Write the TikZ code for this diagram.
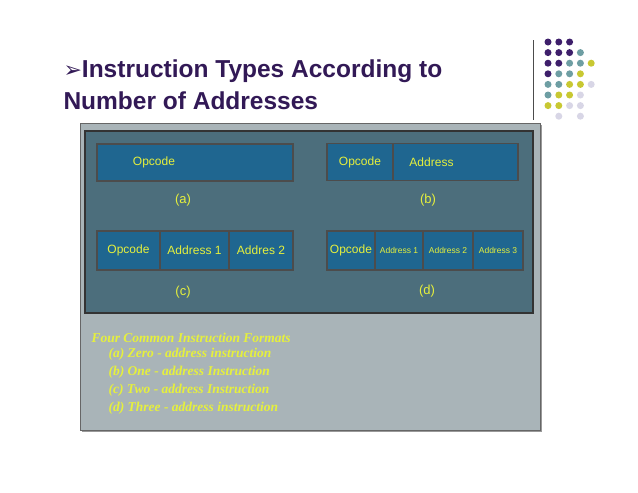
\documentclass[tikz,border=0pt]{standalone}
\usepackage{fontspec}
\setmainfont{Liberation Sans}
\newfontfamily\dejavu{DejaVu Sans}
\newfontfamily\scriptf{Liberation Serif}
\definecolor{dpurple}{HTML}{3E1F6B}
\definecolor{dteal}{HTML}{6E9EA3}
\definecolor{dyel}{HTML}{C8C832}
\definecolor{dlil}{HTML}{D8D6E6}
\definecolor{panelbg}{HTML}{A9B4B8}
\definecolor{inner}{HTML}{4C6E7C}
\definecolor{fbox}{HTML}{1F6690}
\definecolor{ytext}{HTML}{E6F03C}
\begin{document}
\begin{tikzpicture}[x=1pt,y=-1pt,
  field/.style={draw=black!70,line width=1.2pt,fill=fbox,inner sep=0},
  ftext/.style={text=ytext,font=\fontsize{12}{14}\selectfont},
  stext/.style={text=ytext,font=\fontsize{8.5}{10}\selectfont},
  lbl/.style={text=ytext,font=\fontsize{13}{15}\selectfont},
  itl/.style={text=ytext,anchor=west,font=\scriptf\bfseries\itshape\fontsize{13.5}{15}\selectfont},
  dot/.style={circle,inner sep=0,minimum size=7pt}]
\useasboundingbox (0,0) rectangle (638,493);
\fill[white] (0,0) rectangle (638,493);
% title
\node[anchor=west,font=\bfseries\fontsize{24.5}{26}\selectfont,text=dpurple!80!black] (t1) at (60,71) {{\dejavu\fontsize{22}{24}\selectfont ➢}Instruction Types According to};
\node[anchor=west,font=\bfseries\fontsize{24.5}{26}\selectfont,text=dpurple!80!black] (t2) at (60,101) {Number of Addresses};
\draw[black!70,line width=0.8pt] (533,40) -- (533,120);
% dots
\foreach \c/\r/\col in {0/0/dpurple,1/0/dpurple,2/0/dpurple,
 0/1/dpurple,1/1/dpurple,2/1/dpurple,3/1/dteal,
 0/2/dpurple,1/2/dpurple,2/2/dteal,3/2/dteal,4/2/dyel,
 0/3/dpurple,1/3/dteal,2/3/dteal,3/3/dyel,
 0/4/dteal,1/4/dteal,2/4/dyel,3/4/dyel,4/4/dlil,
 0/5/dteal,1/5/dyel,2/5/dyel,3/5/dlil,
 0/6/dyel,1/6/dyel,2/6/dlil,3/6/dlil,
 1/7/dlil,3/7/dlil}
 \node[dot,fill=\col] (d\c\r) at (548+10.8*\c,42+10.6*\r) {};
% panels
\fill[black!40] (82,125) rectangle (542,432);
\draw[black!60,fill=panelbg,line width=1pt] (80,123) rectangle (540,430);
\draw[black!80,fill=inner,line width=1.5pt] (85,131) rectangle (533,313);
% (a)
\node[field,minimum width=196pt,minimum height=37pt] (a) at (195,162.5) {};
\node[ftext] (ao) at (154,162) {Opcode};
\node[lbl] (la) at (183,200) {(a)};
% (b)
\node[field,minimum width=66pt,minimum height=37pt] (b1) at (360,162) {};
\node[field,minimum width=125pt,minimum height=37pt] (b2) at (455.5,162) {};
\node[ftext] at (b1) {Opcode};
\node[ftext,xshift=-24pt] at (b2) {Address};
\node[lbl] (lb) at (428,200) {(b)};
% (c)
\node[field,minimum width=63pt,minimum height=39pt] (c1) at (128.5,250.5) {};
\node[field,minimum width=69pt,minimum height=39pt] (c2) at (194.5,250.5) {};
\node[field,minimum width=64pt,minimum height=39pt] (c3) at (261,250.5) {};
\node[ftext] at (c1) {Opcode};
\node[ftext] at (c2) {Address 1};
\node[ftext] at (c3) {Addres 2};
\node[lbl] (lc) at (183,292) {(c)};
% (d)
\node[field,minimum width=48pt,minimum height=39pt] (d1) at (351,250.5) {};
\node[field,minimum width=48pt,minimum height=39pt] (d2) at (399,250.5) {};
\node[field,minimum width=50pt,minimum height=39pt] (d3) at (448,250.5) {};
\node[field,minimum width=50pt,minimum height=39pt] (d4) at (498,250.5) {};
\node[ftext] at (d1) {Opcode};
\node[stext] at (d2) {Address 1};
\node[stext] at (d3) {Address 2};
\node[stext] at (d4) {Address 3};
\node[lbl] (ld) at (427,291) {(d)};
% caption
\node[itl] (i0) at (88,338) {Four Common Instruction Formats};
\node[itl] (i1) at (105,354) {(a) Zero - address instruction};
\node[itl] (i2) at (105,372) {(b) One - address Instruction};
\node[itl] (i3) at (105,390) {(c) Two - address Instruction};
\node[itl] (i4) at (105,408) {(d) Three - address instruction};
\end{tikzpicture}
\end{document}
